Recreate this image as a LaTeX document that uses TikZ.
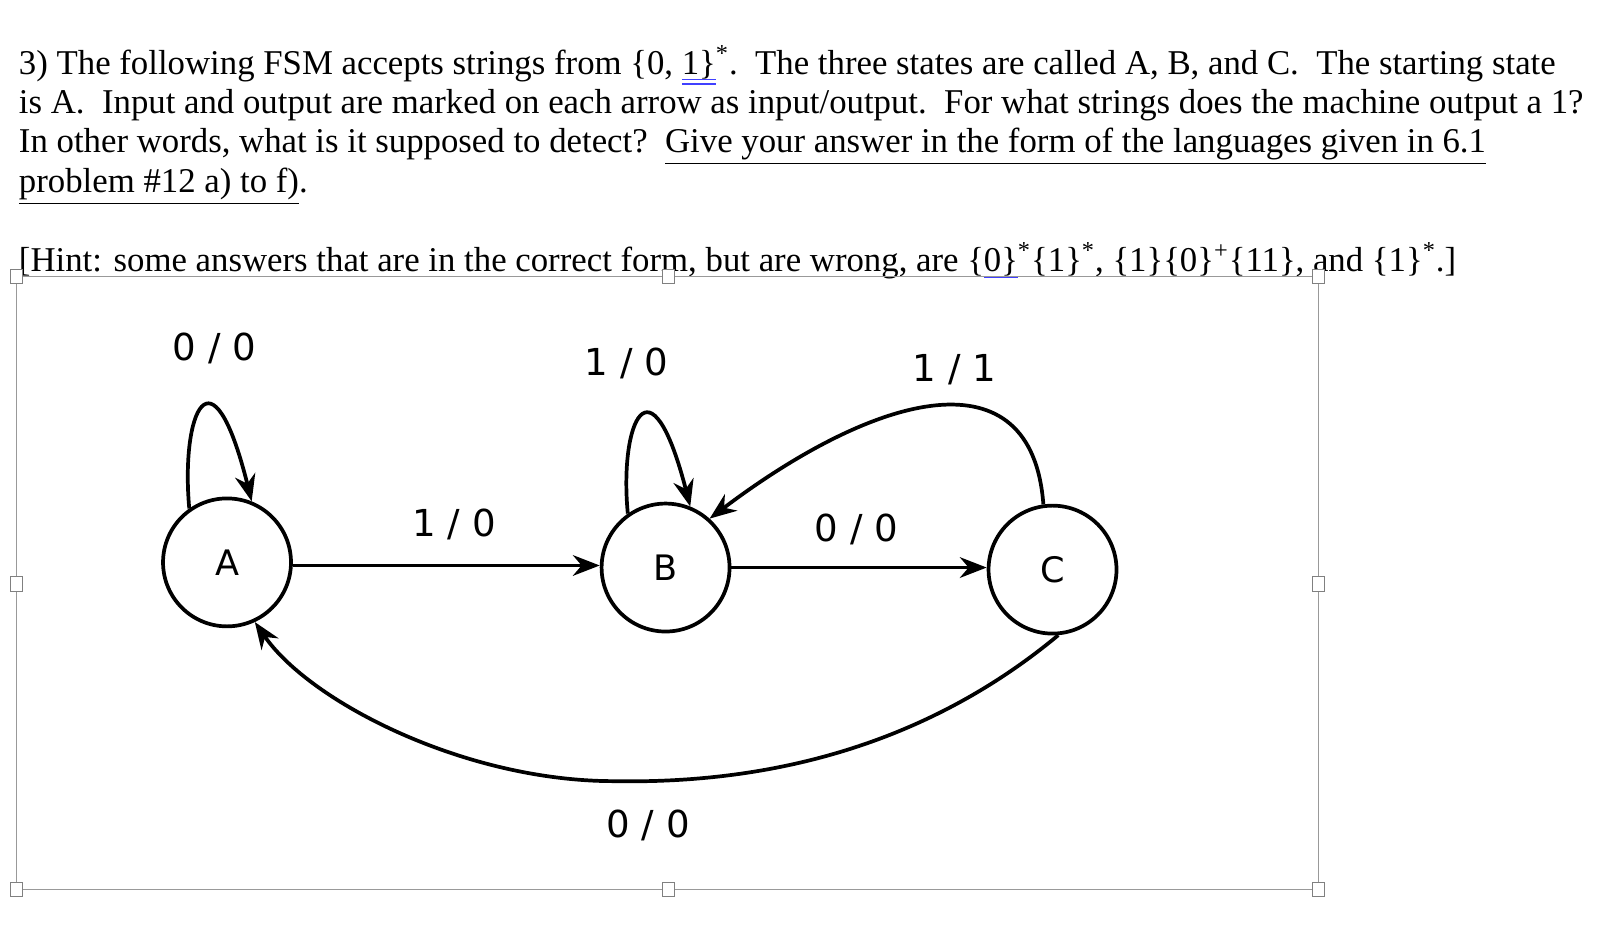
\documentclass[tikz,border=0pt]{standalone}
\usepackage{fontspec}
\setmainfont{Liberation Serif}
\newfontfamily\dia{DejaVu Sans}
\usetikzlibrary{arrows.meta}
\newcommand\bul[1]{\setbox0\hbox{#1}\rlap{\color{blue!75}\rule[-3pt]{\wd0}{0.8pt}}#1}
\newcommand\bdul[1]{\setbox0\hbox{#1}\rlap{\color{blue!75}\rule[-3pt]{\wd0}{0.7pt}}\rlap{\color{blue!75}\rule[-5pt]{\wd0}{0.7pt}}#1}
\tikzset{
  txt/.style={anchor=base west,inner sep=0pt,font=\fontsize{16.85}{19}\selectfont},
  st/.style={circle,draw,line width=1.8pt,minimum size=62pt,inner sep=0pt,font=\dia\fontsize{17}{20}\selectfont},
  lab/.style={font=\dia\fontsize{18}{20}\selectfont,inner sep=0pt},
  tr/.style={line width=1.8pt,-{Stealth[length=13pt,width=10pt]}},
  hd/.style={draw=gray,fill=white,line width=0.5pt,minimum width=6pt,minimum height=7pt,inner sep=0pt}
}
\begin{document}
\begin{tikzpicture}[x=0.5pt,y=-0.5pt]
\useasboundingbox (0,0) rectangle (1568,905);
\node[txt] (l1) at (18,72) {3) The following FSM accepts strings from \{0, \bdul{1\}}\textsuperscript{*}.\ \ The three states are called A, B, and C.\ \ The starting state};
\node[txt] (l2) at (18,110) {is A.\ \ Input and output are marked on each arrow as input/output.\ \ For what strings does the machine output a 1?};
\node[txt] (l3) at (18,148) {In other words, what is it supposed to detect?\ \ \underline{Give your answer in the form of the languages given in 6.1}};
\node[txt] (l4) at (18,187) {\underline{problem \#12 a) to f)}.};
\node[txt] (l5) at (18,263) {[Hint: some answers that are in the correct form, but are wrong, are \{\bul{0\}}\textsuperscript{*}\{1\}\textsuperscript{*}, \{1\}\{0\}\textsuperscript{+}\{11\}, and \{1\}\textsuperscript{*}.]};
\draw[gray!80,line width=0.7pt] (16,268) rectangle (1278,862);
\foreach \p/\q in {16/268,648/268,1278/268,16/566,1278/566,16/862,648/862,1278/862}
  \node[hd] at (\p,\q) {};
\node[st] (A) at (220,545) {A};
\node[st] (B) at (645,550) {B};
\node[st] (C) at (1020,552) {C};
\node[lab] (la) at (208,338) {0 / 0};
\node[lab] (lb) at (607,352) {1 / 0};
\node[lab] (lc) at (925,358) {1 / 1};
\node[lab] (lab) at (440,508) {1 / 0};
\node[lab] (lbc) at (830,513) {0 / 0};
\node[lab] (lca) at (628,800) {0 / 0};
\coordinate (ae) at ([yshift=-1.5pt]A.east);
\coordinate (be) at ([yshift=0pt]B.east);
\draw[tr] (A.125) .. controls (175,400) and (205,330) .. (A.68);
\draw[tr] (B.125) .. controls (600,410) and (630,340) .. (B.68);
\draw[tr] (ae) -- (ae -| B.west);
\draw[tr] (be) -- (be -| C.west);
\draw[tr] (C.98) .. controls (1000,340) and (850,380) .. (B.48);
\draw[tr] (C.-85) .. controls (900,720) and (750,760) .. (595,757) .. controls (450,757) and (300,680) .. (A.-65);
\end{tikzpicture}
\end{document}
